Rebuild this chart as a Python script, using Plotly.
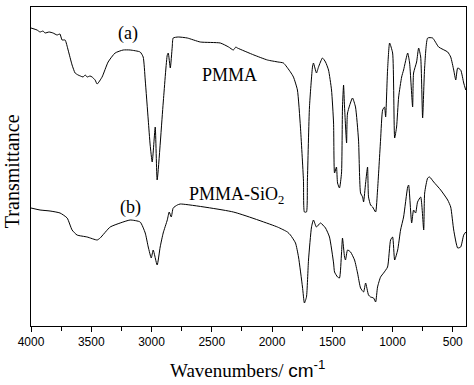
import plotly.graph_objects as go

# Curve (a): PMMA  (wavenumber, transmittance in arbitrary units)
wn_a = [4000, 3950, 3925, 3900, 3884, 3850, 3817, 3784, 3760, 3742, 3717, 3692, 3659, 3634, 3609,
        3590, 3568, 3550, 3534, 3510, 3493, 3468, 3451, 3410, 3360, 3302, 3235, 3177, 3094, 3069,
        3052, 3027, 3011, 2994, 2969, 2953, 2903, 2869, 2861, 2844, 2828, 2820, 2778, 2703, 2595,
        2429, 2360, 2321, 2300, 2287, 2150, 2038, 1950, 1905, 1847, 1822, 1789, 1764, 1739, 1731,
        1714, 1706, 1689, 1664, 1656, 1631, 1614, 1581, 1556, 1531, 1506, 1489, 1481, 1465, 1456,
        1440, 1423, 1415, 1406, 1398, 1381, 1373, 1332, 1307, 1282, 1265, 1248, 1240, 1223, 1207,
        1199, 1182, 1165, 1140, 1124, 1099, 1082, 1066, 1057, 1041, 1024, 999, 982, 966, 949,
        924, 908, 874, 858, 833, 825, 800, 783, 766, 750, 733, 708, 667, 617, 542,
        517, 492, 475, 459, 434, 409, 392]
t_a = [298, 296, 294, 295, 293, 294, 293, 291, 292, 286, 286, 276, 261, 253, 251,
       250, 249, 251, 249, 250, 249, 246, 242, 249, 264, 273, 276, 276, 274, 269,
       246, 206, 181, 164, 199, 146, 223, 271, 273, 258, 279, 288, 289, 288, 284,
       283, 279, 276, 279, 278, 271, 266, 264, 263, 254, 249, 236, 199, 146, 114,
       114, 146, 219, 259, 263, 253, 259, 268, 264, 256, 236, 203, 153, 159, 143,
       138, 153, 219, 241, 219, 183, 213, 228, 219, 186, 133, 129, 124, 143, 159,
       129, 121, 119, 114, 136, 186, 216, 219, 209, 256, 283, 273, 188, 199, 229,
       249, 256, 273, 263, 219, 253, 264, 278, 269, 208, 259, 288, 288, 279, 274,
       269, 256, 246, 258, 256, 243, 236]

# Curve (b): PMMA-SiO2
wn_b = [4000, 3925, 3842, 3759, 3700, 3659, 3618, 3534, 3451, 3426, 3343, 3260, 3177, 3094, 3052,
        3027, 3002, 2986, 2953, 2928, 2903, 2869, 2853, 2836, 2820, 2786, 2761, 2321, 1955, 1872,
        1847, 1805, 1780, 1747, 1731, 1714, 1697, 1672, 1656, 1631, 1598, 1556, 1523, 1489, 1481,
        1456, 1440, 1423, 1415, 1398, 1390, 1373, 1348, 1315, 1290, 1265, 1240, 1223, 1199, 1182,
        1157, 1140, 1124, 1099, 1074, 1041, 1016, 999, 982, 957, 933, 908, 874, 866, 841,
        825, 808, 792, 766, 741, 733, 708, 692, 658, 600, 542, 517, 492, 459, 434,
        409, 392]
t_b = [118, 116, 115, 113, 108, 96, 91, 89, 86, 88, 99, 103, 106, 104, 93,
       79, 68, 76, 61, 79, 93, 106, 114, 109, 118, 121, 122, 114, 99, 94,
       91, 83, 69, 39, 23, 29, 66, 99, 106, 99, 103, 98, 89, 63, 54,
       49, 48, 73, 88, 69, 66, 76, 74, 66, 53, 38, 34, 43, 31, 29,
       28, 24, 39, 49, 53, 59, 86, 89, 66, 76, 96, 109, 139, 141, 103,
       116, 113, 124, 129, 96, 133, 148, 149, 144, 136, 126, 119, 96, 78, 79,
       91, 94]

x_ticks = [4000, 3500, 3000, 2500, 2000, 1500, 1000, 500]

fig = go.Figure()
fig.add_trace(go.Scatter(x=wn_a, y=t_a, mode="lines",
                         line=dict(color="black", width=1, shape="spline", smoothing=0.5),
                         showlegend=False))
fig.add_trace(go.Scatter(x=wn_b, y=t_b, mode="lines",
                         line=dict(color="black", width=1, shape="spline", smoothing=0.5),
                         showlegend=False))

serif = "Liberation Serif, Times New Roman, serif"
sans = "Liberation Sans, Arial, sans-serif"

annots = [
    dict(x=3194, y=293, text="(a)"),
    dict(x=2354, y=251, text="PMMA"),
    dict(x=2296, y=131, text="PMMA-SiO<sub>2</sub>"),
    dict(x=3177, y=119, text="(b)"),
]
for a in annots:
    fig.add_annotation(x=a["x"], y=a["y"], text=a["text"], showarrow=False, xref="x", yref="y",
                       font=dict(family=serif, size=18, color="black"))

fig.add_annotation(x=-0.044, y=0.485, xref="paper", yref="paper", text="Transmittance",
                   showarrow=False, textangle=-90, xanchor="center", yanchor="middle",
                   font=dict(family=serif, size=20, color="black"))
fig.add_annotation(x=0.497, y=-0.135, xref="paper", yref="paper",
                   text="Wavenumbers/ <span style='font-family:Liberation Sans'>cm<sup>-1</sup></span>",
                   showarrow=False, xanchor="center", yanchor="middle",
                   font=dict(family=serif, size=19, color="black"))

fig.update_layout(
    width=474, height=385,
    margin=dict(l=31, r=8, t=7, b=59, autoexpand=False),
    paper_bgcolor="white", plot_bgcolor="white",
    xaxis=dict(range=[4000, 390], tickvals=x_ticks, ticktext=[str(v) for v in x_ticks],
               ticks="outside", ticklen=5, tickcolor="black", tickwidth=1,
               minor=dict(dtick=250, tick0=0, ticks="outside", ticklen=4, tickcolor="black"),
               showline=True, linecolor="black", linewidth=1, mirror=True,
               showgrid=False, zeroline=False, automargin=False,
               tickfont=dict(family=sans, size=12, color="black")),
    yaxis=dict(range=[0, 319], showticklabels=False, ticks="",
               showline=True, linecolor="black", linewidth=1, mirror=True,
               showgrid=False, zeroline=False, automargin=False),
)

fig.write_html("out.html", config={"displayModeBar": False},
               post_script="document.body.style.margin='0px';document.body.style.padding='0px';")
